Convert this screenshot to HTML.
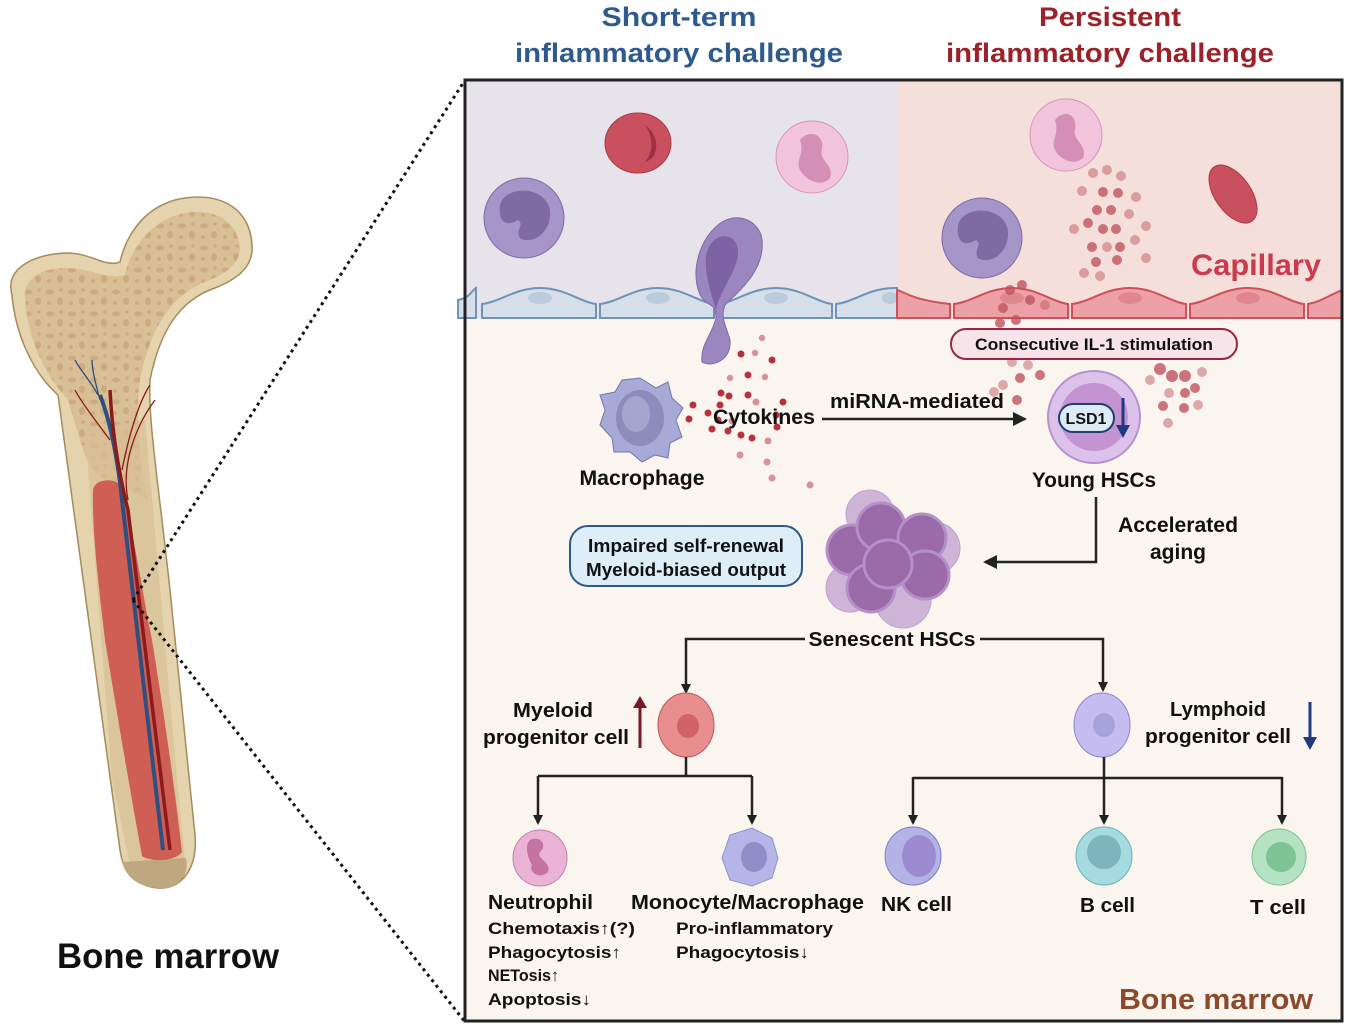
<!DOCTYPE html>
<html><head><meta charset="utf-8"><style>
html,body{margin:0;padding:0;background:#fff;}
svg{display:block;font-family:"Liberation Sans",sans-serif;font-weight:bold;}
</style></head><body>
<svg width="1350" height="1031" viewBox="0 0 1350 1031" xmlns="http://www.w3.org/2000/svg">
<defs>
<marker id="ah" markerWidth="10" markerHeight="10" refX="8" refY="5" orient="auto" markerUnits="userSpaceOnUse" viewBox="0 0 10 10"><path d="M0,0 L10,5 L0,10 z" fill="#222"/></marker>
<marker id="ah2" markerWidth="14" markerHeight="14" refX="12" refY="7" orient="auto" markerUnits="userSpaceOnUse" viewBox="0 0 14 14"><path d="M0,0 L14,7 L0,14 z" fill="#222"/></marker>
<pattern id="spong" width="22" height="22" patternUnits="userSpaceOnUse"><rect width="22" height="22" fill="#d8bd93"/><ellipse cx="6" cy="6" rx="4" ry="2.5" fill="#c9a87a"/><ellipse cx="16" cy="15" rx="3" ry="4" fill="#c9a87a"/><circle cx="17" cy="4" r="1.8" fill="#c9a87a"/><circle cx="5" cy="17" r="2" fill="#c9a87a"/></pattern>
</defs>

<!-- bone -->
<path d="M12,295 C5,270 30,255 65,253 C90,252 105,268 120,262 C125,240 140,210 175,200 C215,190 250,205 252,245 C254,268 235,280 215,288 C180,300 160,330 150,380 C148,420 158,480 170,590 L195,835 C198,870 180,890 158,888 C135,886 123,872 120,850 L58,395 C30,370 15,330 12,295 Z" fill="#e4d3ad" stroke="#a48b5c" stroke-width="1.5"/>
<path d="M25,300 C22,280 40,268 65,268 C90,268 108,280 125,275 C130,250 150,222 180,214 C215,206 238,222 240,248 C240,265 222,276 205,282 C170,296 150,330 140,380 C135,420 140,470 148,500 L120,485 C100,480 88,470 80,440 L68,400 C45,375 28,340 25,300 Z" fill="url(#spong)" opacity="0.9"/>
<path d="M85,430 L145,420 L178,790 L185,860 L130,865 L112,780 Z" fill="#d7bf95" opacity="0.7"/>
<path d="M122,862 L186,858 C190,878 175,890 158,888 C138,887 126,877 122,862 Z" fill="#bfa880"/>
<path d="M93,490 C95,478 115,478 120,485 C132,520 140,580 152,640 C165,720 175,790 182,852 C175,862 150,862 142,856 C130,790 118,720 105,640 C98,580 92,530 93,490 Z" fill="#cf5f55"/>
<path d="M100,395 C110,420 118,460 122,500 L163,850" stroke="#2f4f7f" stroke-width="4" fill="none"/>
<path d="M110,390 C112,430 118,470 128,510 L170,850" stroke="#8b1a1a" stroke-width="3.5" fill="none"/>
<path d="M128,500 C120,460 140,420 155,400 M110,440 C95,420 80,400 75,390 M122,470 C130,430 140,400 150,385" stroke="#8b1a1a" stroke-width="1.3" fill="none"/>
<path d="M98,395 C90,380 80,370 75,360 M100,400 C96,385 92,370 92,360" stroke="#2f4f7f" stroke-width="1.3" fill="none"/>

<text x="168" y="968" font-size="35" fill="#111" text-anchor="middle" textLength="222" lengthAdjust="spacingAndGlyphs">Bone marrow</text>

<!-- dotted zoom lines -->
<line x1="133" y1="600" x2="465" y2="80" stroke="#111" stroke-width="3" stroke-dasharray="3,4"/>
<line x1="133" y1="600" x2="465" y2="1022" stroke="#111" stroke-width="3" stroke-dasharray="3,4"/>

<!-- titles -->
<text x="679" y="26" font-size="27" fill="#2e5a8e" text-anchor="middle" textLength="155" lengthAdjust="spacingAndGlyphs">Short-term</text>
<text x="679" y="62" font-size="27" fill="#2e5a8e" text-anchor="middle" textLength="328" lengthAdjust="spacingAndGlyphs">inflammatory challenge</text>
<text x="1110" y="26" font-size="27" fill="#9c2128" text-anchor="middle" textLength="142" lengthAdjust="spacingAndGlyphs">Persistent</text>
<text x="1110" y="62" font-size="27" fill="#9c2128" text-anchor="middle" textLength="328" lengthAdjust="spacingAndGlyphs">inflammatory challenge</text>

<!-- main box -->
<rect x="465" y="80" width="877" height="941" fill="#faf5ef"/>
<rect x="465" y="80" width="432" height="238" fill="#e6e4ea"/>
<rect x="897" y="80" width="445" height="238" fill="#f5dfda"/>

<!-- endothelial cells -->
<g stroke-width="2">
<path d="M458,318 L458,300 C470,298 472,290 476,288 L476,318 Z" fill="#d6dfe9" stroke="#6d93b5"/>
<g fill="#d6dfe9" stroke="#6d93b5">
<path d="M482,318 L482,304 C500,302 515,288 540,288 C565,288 580,302 596,304 L596,318 Z"/>
<path d="M600,318 L600,304 C618,302 633,288 658,288 C683,288 698,302 714,304 L714,318 Z"/>
<path d="M718,318 L718,304 C736,302 751,288 776,288 C801,288 816,302 832,304 L832,318 Z"/>
<path d="M836,318 L836,304 C854,302 869,288 894,288 L897,288 L897,318 Z"/>
</g>
<g fill="#bccbdb"><ellipse cx="540" cy="298" rx="12" ry="6"/><ellipse cx="658" cy="298" rx="12" ry="6"/><ellipse cx="776" cy="298" rx="12" ry="6"/><ellipse cx="890" cy="298" rx="8" ry="6"/></g>
<g fill="#eda1a6" stroke="#cf4f5a">
<path d="M897,318 L897,290 C905,292 912,300 950,304 L950,318 Z"/>
<path d="M954,318 L954,304 C972,302 987,288 1012,288 C1037,288 1052,302 1068,304 L1068,318 Z"/>
<path d="M1072,318 L1072,304 C1090,302 1105,288 1130,288 C1155,288 1170,302 1186,304 L1186,318 Z"/>
<path d="M1190,318 L1190,304 C1208,302 1223,288 1248,288 C1273,288 1288,302 1304,304 L1304,318 Z"/>
<path d="M1308,318 L1308,304 C1320,302 1330,295 1342,290 L1342,318 Z"/>
</g>
<g fill="#e0868e"><ellipse cx="1012" cy="298" rx="12" ry="6"/><ellipse cx="1130" cy="298" rx="12" ry="6"/><ellipse cx="1248" cy="298" rx="12" ry="6"/></g>
</g>

<!-- top cells -->
<ellipse cx="638" cy="143" rx="33" ry="30" fill="#c9505f" stroke="#a83a48"/>
<path d="M645,125 C660,135 660,158 645,162 C655,150 652,135 645,125Z" fill="#9e2f40"/>
<circle cx="524" cy="218" r="40" fill="#a695c8" stroke="#7e6aa8"/>
<path d="M500,205 C505,185 545,185 550,210 C552,235 530,245 520,238 C515,230 525,225 518,220 C505,228 498,220 500,205Z" fill="#7f6aa2"/>
<circle cx="812" cy="157" r="36" fill="#f1c4dc" stroke="#d894bb"/>
<path d="M800,140 C810,128 825,135 822,150 C818,160 835,165 830,178 C822,188 805,180 800,170 C795,160 805,155 800,140Z" fill="#d38fb6"/>
<path d="M718,225 C700,240 690,270 700,295 C710,310 715,300 716,318 C712,335 700,345 702,362 C712,368 732,360 730,340 C726,325 720,318 725,305 C740,290 765,270 762,240 C760,220 735,210 718,225Z" fill="#9b86bf" stroke="#7e6aa8"/>
<path d="M710,245 C720,230 740,235 738,255 C735,275 720,290 716,310 C710,290 700,260 710,245Z" fill="#7c63a3"/>
<circle cx="1066" cy="135" r="36" fill="#f1c4dc" stroke="#d894bb"/>
<path d="M1055,120 C1065,108 1078,115 1075,130 C1072,140 1088,145 1083,158 C1075,166 1060,160 1055,150 C1050,140 1060,135 1055,120Z" fill="#d38fb6"/>
<circle cx="982" cy="238" r="40" fill="#a695c8" stroke="#7e6aa8"/>
<path d="M958,225 C963,205 1003,205 1008,230 C1010,255 988,265 978,258 C973,250 983,245 976,240 C963,248 956,240 958,225Z" fill="#7f6aa2"/>
<ellipse cx="1233" cy="194" rx="18" ry="33" transform="rotate(-35 1233 194)" fill="#c9505f" stroke="#a83a48"/>
<text x="1256" y="275" font-size="30" fill="#cc3a4e" text-anchor="middle" textLength="130" lengthAdjust="spacingAndGlyphs">Capillary</text>

<!-- capillary dots -->
<g fill="#c0555f" opacity="0.8">
<circle cx="1093" cy="173" r="5" opacity=".6"/><circle cx="1107" cy="170" r="5" opacity=".6"/><circle cx="1121" cy="176" r="5" opacity=".6"/><circle cx="1082" cy="191" r="5" opacity=".6"/><circle cx="1103" cy="192" r="5"/><circle cx="1118" cy="193" r="5"/><circle cx="1136" cy="197" r="5" opacity=".6"/><circle cx="1097" cy="210" r="5"/><circle cx="1111" cy="210" r="5"/><circle cx="1129" cy="214" r="5" opacity=".6"/><circle cx="1088" cy="223" r="5"/><circle cx="1103" cy="229" r="5"/><circle cx="1116" cy="229" r="5"/><circle cx="1146" cy="226" r="5" opacity=".6"/><circle cx="1074" cy="229" r="5" opacity=".6"/><circle cx="1135" cy="240" r="5" opacity=".6"/><circle cx="1092" cy="247" r="5"/><circle cx="1107" cy="247" r="5" opacity=".6"/><circle cx="1120" cy="247" r="5"/><circle cx="1146" cy="258" r="5" opacity=".6"/><circle cx="1096" cy="262" r="5"/><circle cx="1117" cy="260" r="5"/><circle cx="1084" cy="273" r="5" opacity=".6"/><circle cx="1100" cy="276" r="5" opacity=".6"/>
<circle cx="1010" cy="290" r="5"/><circle cx="1022" cy="285" r="5"/><circle cx="1030" cy="300" r="5"/><circle cx="1003" cy="308" r="5"/><circle cx="1045" cy="305" r="5" opacity=".6"/><circle cx="1016" cy="320" r="5"/><circle cx="1000" cy="323" r="5"/>
<circle cx="1012" cy="362" r="5" opacity=".6"/><circle cx="1028" cy="365" r="5" opacity=".6"/><circle cx="1040" cy="375" r="5"/><circle cx="1020" cy="378" r="5"/><circle cx="1003" cy="385" r="5" opacity=".6"/><circle cx="994" cy="392" r="5" opacity=".6"/><circle cx="1017" cy="400" r="5"/>
<circle cx="1160" cy="369" r="6"/><circle cx="1172" cy="376" r="6"/><circle cx="1185" cy="376" r="6"/><circle cx="1202" cy="372" r="5" opacity=".6"/><circle cx="1150" cy="380" r="5" opacity=".6"/><circle cx="1169" cy="393" r="5" opacity=".6"/><circle cx="1185" cy="393" r="5"/><circle cx="1195" cy="388" r="5"/><circle cx="1163" cy="406" r="5"/><circle cx="1184" cy="408" r="5"/><circle cx="1198" cy="405" r="5" opacity=".6"/><circle cx="1168" cy="423" r="5" opacity=".6"/>
</g>

<!-- IL-1 box -->
<rect x="951" y="329" width="286" height="30" rx="15" fill="#f7e4ea" stroke="#9c2345" stroke-width="2"/>
<text x="1094" y="350" font-size="17" fill="#111" text-anchor="middle" textLength="238" lengthAdjust="spacingAndGlyphs">Consecutive IL-1 stimulation</text>

<!-- macrophage -->
<path d="M640,378 L656,388 L668,382 L672,398 L683,408 L676,420 L682,437 L670,443 L668,458 L655,455 L642,462 L630,452 L614,452 L612,438 L600,425 L605,410 L600,395 L615,392 L622,380 Z" fill="#a7a9d6" stroke="#7577ab"/>
<ellipse cx="640" cy="418" rx="24" ry="28" fill="#8b8dbb"/>
<ellipse cx="636" cy="414" rx="14" ry="18" fill="#b6b7dd" opacity=".6"/>
<text x="642" y="485" font-size="21" fill="#111" text-anchor="middle" textLength="125" lengthAdjust="spacingAndGlyphs">Macrophage</text>

<!-- cytokine dots -->
<g fill="#b8323e" transform="translate(100,-5)">
<circle cx="662" cy="343" r="3.2" opacity=".5"/><circle cx="641" cy="359" r="3.5"/><circle cx="655" cy="358" r="3.2" opacity=".5"/><circle cx="672" cy="365" r="3.5"/>
<circle cx="630" cy="383" r="3.2" opacity=".5"/><circle cx="648" cy="380" r="3.5"/><circle cx="665" cy="382" r="3.2" opacity=".5"/>
<circle cx="621" cy="398" r="3.5"/><circle cx="629" cy="401" r="3.5"/><circle cx="648" cy="400" r="3.5"/><circle cx="656" cy="407" r="3.5" opacity=".5"/>
<circle cx="593" cy="410" r="3.5"/><circle cx="608" cy="418" r="3.5"/><circle cx="620" cy="410" r="3.5"/><circle cx="683" cy="407" r="3.5"/><circle cx="676" cy="420" r="3.5"/>
<circle cx="589" cy="424" r="3.5"/><circle cx="618" cy="425" r="3.5"/><circle cx="632" cy="426" r="3.5" opacity=".5"/><circle cx="677" cy="432" r="3.5"/><circle cx="641" cy="440" r="3.5"/>
<circle cx="612" cy="434" r="3.5"/><circle cx="628" cy="436" r="3.5"/><circle cx="652" cy="443" r="3.5"/><circle cx="668" cy="446" r="3.5" opacity=".5"/>
<circle cx="640" cy="460" r="3.5" opacity=".5"/><circle cx="667" cy="467" r="3.5" opacity=".5"/><circle cx="672" cy="483" r="3.5" opacity=".5"/><circle cx="710" cy="490" r="3.5" opacity=".5"/>
</g>

<text x="764" y="424" font-size="21" fill="#111" text-anchor="middle" textLength="102" lengthAdjust="spacingAndGlyphs">Cytokines</text>
<text x="917" y="408" font-size="20" fill="#111" text-anchor="middle" textLength="174" lengthAdjust="spacingAndGlyphs">miRNA-mediated</text>
<line x1="822" y1="419" x2="1025" y2="419" stroke="#222" stroke-width="2.5" marker-end="url(#ah2)"/>

<!-- young HSC -->
<circle cx="1094" cy="417" r="46" fill="#dcc2ea" stroke="#b690cf" stroke-width="2"/>
<circle cx="1094" cy="417" r="34" fill="#c394d1"/>
<rect x="1059" y="404" width="55" height="28" rx="14" fill="#dbeaf5" stroke="#1f3f6e" stroke-width="2"/>
<text x="1086" y="424" font-size="16" fill="#111" text-anchor="middle">LSD1</text>
<line x1="1123" y1="398" x2="1123" y2="428" stroke="#1f3a7e" stroke-width="3"/>
<path d="M1116,425 L1130,425 L1123,438 Z" fill="#1f3a7e"/>
<text x="1094" y="487" font-size="21" fill="#111" text-anchor="middle" textLength="124" lengthAdjust="spacingAndGlyphs">Young HSCs</text>

<path d="M1096,497 L1096,562 L985,562" stroke="#222" stroke-width="2.5" fill="none" marker-end="url(#ah2)"/>
<text x="1178" y="532" font-size="21" fill="#111" text-anchor="middle" textLength="120" lengthAdjust="spacingAndGlyphs">Accelerated</text>
<text x="1178" y="559" font-size="21" fill="#111" text-anchor="middle" textLength="56" lengthAdjust="spacingAndGlyphs">aging</text>

<!-- senescent cluster -->
<g fill="#c7a9d3" stroke="#b798c6" opacity=".85">
<circle cx="870" cy="514" r="24"/><circle cx="934" cy="548" r="26"/><circle cx="903" cy="600" r="28"/><circle cx="850" cy="588" r="24"/>
</g>
<g fill="#9a6ba8" stroke="#b590c8" stroke-width="3">
<circle cx="852" cy="550" r="25"/><circle cx="881" cy="527" r="24"/><circle cx="922" cy="538" r="24"/><circle cx="871" cy="588" r="24"/><circle cx="925" cy="575" r="24"/><circle cx="888" cy="564" r="24"/>
</g>

<rect x="570" y="526" width="232" height="60" rx="18" fill="#ddeef8" stroke="#2c5a86" stroke-width="2"/>
<text x="686" y="552" font-size="18" fill="#111" text-anchor="middle" textLength="196" lengthAdjust="spacingAndGlyphs">Impaired self-renewal</text>
<text x="686" y="576" font-size="18" fill="#111" text-anchor="middle" textLength="200" lengthAdjust="spacingAndGlyphs">Myeloid-biased output</text>

<!-- senescent HSCs tree -->
<text x="892" y="646" font-size="20" fill="#111" text-anchor="middle" textLength="167" lengthAdjust="spacingAndGlyphs">Senescent HSCs</text>
<path d="M805,639 L686,639 L686,692" stroke="#222" stroke-width="2.5" fill="none" marker-end="url(#ah)"/>
<path d="M980,639 L1103,639 L1103,690" stroke="#222" stroke-width="2.5" fill="none" marker-end="url(#ah)"/>

<ellipse cx="686" cy="725" rx="28" ry="32" fill="#e88e8e" stroke="#c0545a"/>
<ellipse cx="688" cy="726" rx="11" ry="12" fill="#d16268"/>
<text x="553" y="717" font-size="20" fill="#111" text-anchor="middle" textLength="80" lengthAdjust="spacingAndGlyphs">Myeloid</text>
<text x="556" y="744" font-size="20" fill="#111" text-anchor="middle" textLength="146" lengthAdjust="spacingAndGlyphs">progenitor cell</text>
<line x1="640" y1="748" x2="640" y2="706" stroke="#7a1a22" stroke-width="3"/>
<path d="M633,708 L647,708 L640,696 Z" fill="#7a1a22"/>

<ellipse cx="1102" cy="725" rx="28" ry="32" fill="#c5bdf0" stroke="#8f86cc"/>
<ellipse cx="1104" cy="725" rx="11" ry="12" fill="#a8a2db"/>
<text x="1218" y="716" font-size="20" fill="#111" text-anchor="middle" textLength="96" lengthAdjust="spacingAndGlyphs">Lymphoid</text>
<text x="1218" y="743" font-size="20" fill="#111" text-anchor="middle" textLength="146" lengthAdjust="spacingAndGlyphs">progenitor cell</text>
<line x1="1310" y1="702" x2="1310" y2="740" stroke="#1f3a7e" stroke-width="3"/>
<path d="M1303,737 L1317,737 L1310,750 Z" fill="#1f3a7e"/>

<path d="M686,757 L686,776 M538,776 L752,776" stroke="#222" stroke-width="2.5" fill="none"/>
<path d="M538,776 L538,823" stroke="#222" stroke-width="2.5" marker-end="url(#ah)"/>
<path d="M752,776 L752,823" stroke="#222" stroke-width="2.5" marker-end="url(#ah)"/>
<path d="M1104,757 L1104,823" stroke="#222" stroke-width="2.5" marker-end="url(#ah)"/>
<path d="M913,778 L1282,778" stroke="#222" stroke-width="2.5"/>
<path d="M913,777 L913,823" stroke="#222" stroke-width="2.5" marker-end="url(#ah)"/>
<path d="M1282,777 L1282,823" stroke="#222" stroke-width="2.5" marker-end="url(#ah)"/>

<!-- leaf cells -->
<ellipse cx="540" cy="858" rx="27" ry="28" fill="#eab3d6" stroke="#c57fac"/>
<path d="M530,840 C540,835 548,845 540,852 C535,858 552,862 548,872 C540,880 528,872 532,865 C528,858 524,846 530,840Z" fill="#c573a3"/>
<path d="M730,835 L752,828 L772,838 L778,858 L772,878 L752,886 L730,880 L722,858 Z" fill="#b3b6e6" stroke="#8e92cf"/>
<ellipse cx="754" cy="857" rx="13" ry="15" fill="#8d8fc6"/>
<ellipse cx="913" cy="856" rx="28" ry="29" fill="#b3b3e6" stroke="#7d7cc6"/>
<ellipse cx="919" cy="856" rx="17" ry="21" fill="#9c8ccf"/>
<ellipse cx="1104" cy="856" rx="28" ry="29" fill="#a5dade" stroke="#6bb2b8"/>
<ellipse cx="1104" cy="852" rx="17" ry="17" fill="#7cb5bb"/>
<ellipse cx="1279" cy="857" rx="27" ry="28" fill="#b5e2c2" stroke="#7ebf91"/>
<ellipse cx="1281" cy="857" rx="15" ry="15" fill="#7cc493"/>

<g font-size="20" fill="#111">
<text x="488" y="909" textLength="105" lengthAdjust="spacingAndGlyphs">Neutrophil</text>
<text x="631" y="909" textLength="233" lengthAdjust="spacingAndGlyphs">Monocyte/Macrophage</text>
<text x="881" y="911" textLength="71" lengthAdjust="spacingAndGlyphs">NK cell</text>
<text x="1080" y="912" textLength="55" lengthAdjust="spacingAndGlyphs">B cell</text>
<text x="1250" y="914" textLength="56" lengthAdjust="spacingAndGlyphs">T cell</text>
</g>
<g font-size="17" fill="#111">
<text x="488" y="934" textLength="147" lengthAdjust="spacingAndGlyphs">Chemotaxis↑(?)</text>
<text x="488" y="958" textLength="133" lengthAdjust="spacingAndGlyphs">Phagocytosis↑</text>
<text x="488" y="981" textLength="71" lengthAdjust="spacingAndGlyphs">NETosis↑</text>
<text x="488" y="1005" textLength="103" lengthAdjust="spacingAndGlyphs">Apoptosis↓</text>
<text x="676" y="934" textLength="157" lengthAdjust="spacingAndGlyphs">Pro-inflammatory</text>
<text x="676" y="958" textLength="133" lengthAdjust="spacingAndGlyphs">Phagocytosis↓</text>
</g>
<text x="1313" y="1009" font-size="29" fill="#8b4a2b" text-anchor="end" textLength="194" lengthAdjust="spacingAndGlyphs">Bone marrow</text>

<rect x="465" y="80" width="877" height="941" fill="none" stroke="#222" stroke-width="3"/>
</svg>
</body></html>
